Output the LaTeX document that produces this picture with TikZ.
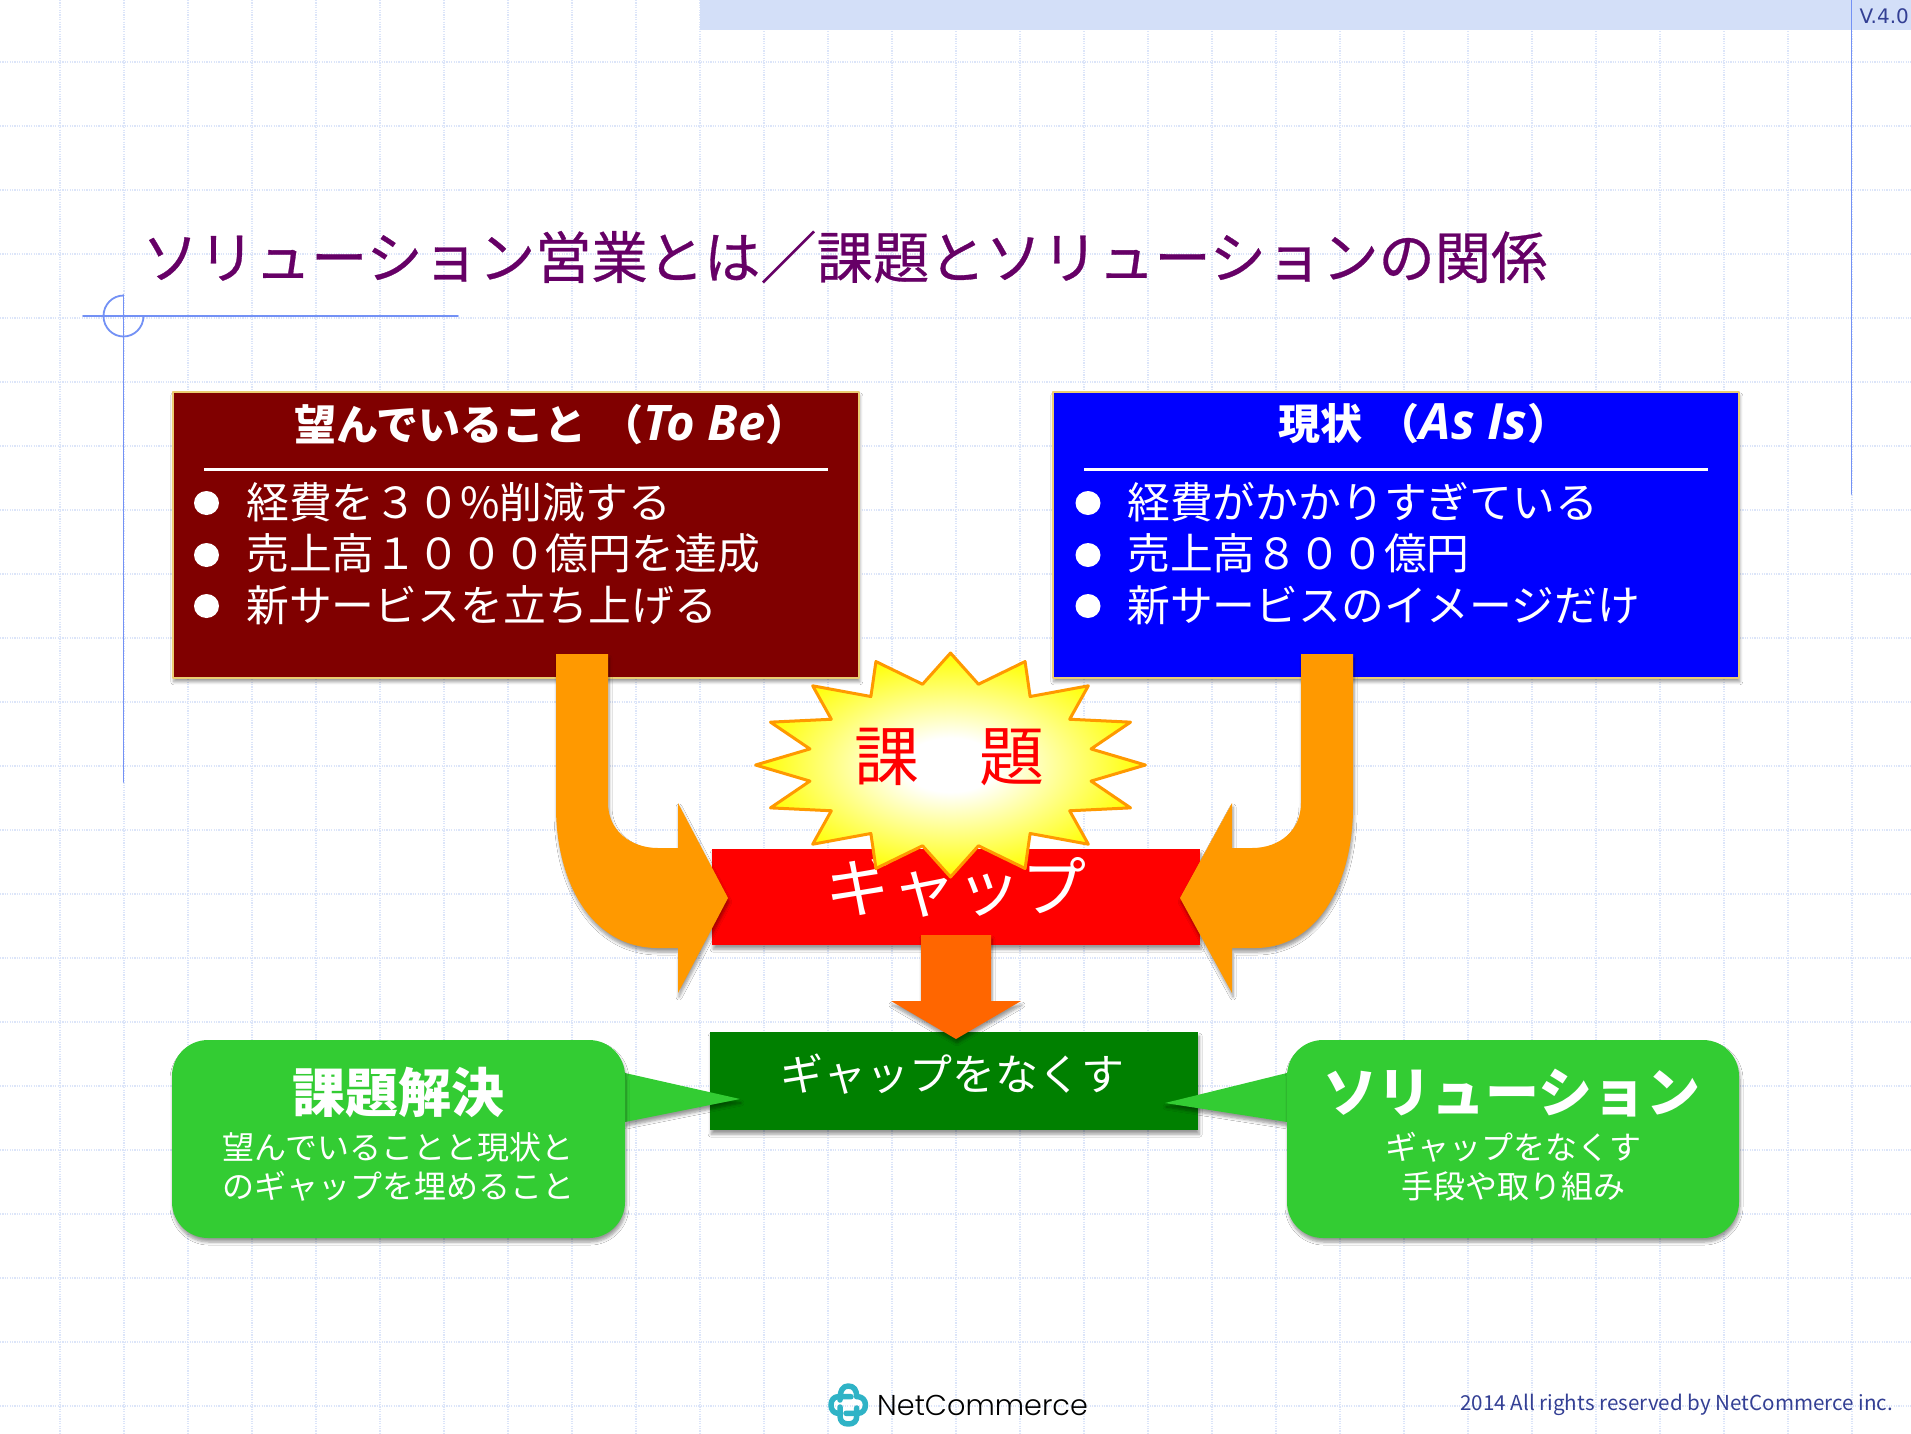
\documentclass[tikz,border=0pt]{standalone}
\usepackage{fontspec}
\setmainfont{Noto Sans CJK JP}
\newfontfamily\titlefont[FakeBold=0.5]{Noto Sans CJK JP}
\newfontfamily\latinfont{Open Sans}
\newfontfamily\versionfont{DejaVu Sans}
\newfontfamily\logofont{Poppins Light}
\usetikzlibrary{shapes.geometric, shadows.blur}

\definecolor{gridblue}{HTML}{DCE5F9}
\definecolor{bandblue}{HTML}{D3DFF8}
\definecolor{ruleblue}{HTML}{7391F5}
\definecolor{titlepurple}{HTML}{660066}
\definecolor{footblue}{HTML}{333F94}
\definecolor{tobered}{HTML}{800000}
\definecolor{goldline}{HTML}{EBCD72}
\definecolor{arroworange}{HTML}{FF9900}
\definecolor{downorange}{HTML}{FF6600}
\definecolor{darkgreen}{HTML}{008000}
\definecolor{lightgreen}{HTML}{33CC33}
\definecolor{logoteal}{HTML}{2FB3C6}

\pgfdeclareradialshading{burst}{\pgfpointorigin}{color(0bp)=(white); color(6bp)=(white); color(25bp)=(yellow); color(50bp)=(yellow)}

\tikzset{
  softshadow/.style={blur shadow={shadow xshift=1pt,shadow yshift=-4pt,shadow blur radius=3pt,shadow blur steps=6,shadow opacity=40}},
  gridline/.style={gridblue,line width=1.2pt,dash pattern=on 1.2pt off 1.2pt,line cap=butt},
  decoline/.style={ruleblue,line width=1.8pt},
  listbox/.style={draw=goldline,line width=2.5pt,minimum width=686pt,minimum height=286pt,inner sep=0pt,softshadow},
  headtext/.style={anchor=west,white,inner sep=0pt,font=\fontsize{42}{48}\selectfont\bfseries},
  listtext/.style={anchor=west,white,inner sep=0pt,font=\fontsize{42.8}{48}\selectfont},
  bigbar/.style={inner sep=0pt,minimum width=488pt,softshadow},
  callout/.style={fill=lightgreen,rounded corners=36pt,softshadow},
  wedge/.style={fill=lightgreen,softshadow},
  callhead/.style={white,inner sep=0pt,font=\fontsize{52}{60}\selectfont\bfseries},
  calltext/.style={white,inner sep=0pt,align=center,font=\fontsize{32}{39}\selectfont},
  footertext/.style={footblue,inner sep=0pt,font=\fontsize{20.6}{24}\selectfont},
  logoline/.style={logoteal,line width=5.5pt}
}

\begin{document}
\begin{tikzpicture}[line cap=round,line join=round,x=1pt,y=-1pt]
\useasboundingbox (0,0) rectangle (1911,1433);
\clip (0,0) rectangle (1911,1433);
\fill[white] (0,0) rectangle (1911,1433);

% slide background
\foreach \gx in {0,...,28} \draw[gridline] ({60+64*\gx},0) -- ({60+64*\gx},1433);
\foreach \gy in {0,...,21} \draw[gridline] (0,{62+64*\gy}) -- (1911,{62+64*\gy});
\fill[bandblue] (700,0) rectangle (1911,30);

\draw[decoline] (83,316) -- (458,316);
\draw[decoline] (123.5,295) -- (123.5,782);
\draw[decoline] (143.5,316) arc[start angle=0,end angle=270,x radius=20,y radius=20.5];
\draw[decoline] (1851.5,0) -- (1851.5,494);
\node[footertext,anchor=east,font=\fontsize{20}{24}\versionfont] (version) at (1909,16) {V.4.0};

\node[anchor=west,titlepurple,inner sep=0pt,font=\fontsize{56.3}{60}\titlefont] (title) at (142,257)
  {ソリューション営業とは／課題とソリューションの関係};

% the two upper boxes
\node[listbox,fill=tobered,anchor=north west] (tobe) at (171.5,390.5) {};
\node[listbox,fill=blue,anchor=north west] (asis) at (1051.5,390.5) {};

\draw[white,line width=3pt,line cap=butt] (204,469) -- (828,469);
\draw[white,line width=3pt,line cap=butt] (1084,469) -- (1708,469);

\node[headtext] (tobehead) at (294,425) {望んでいること \hspace{6pt}（{\fontsize{49}{48}\latinfont\itshape To Be}）};
\node[headtext] (asishead) at (1278,424) {現状 \hspace{6pt}（{\fontsize{50}{48}\latinfont\itshape As Is}）};

\foreach \by in {503,555,606} {
  \fill[white] (206.5,\by) circle[x radius=12.5,y radius=12];
  \fill[white] (1088,\by) circle[x radius=12.5,y radius=12];
}

\node[listtext] (tobeA) at (246,502) {経費を３０\%削減する};
\node[listtext] (tobeB) at (246,553) {売上高１０００億円を達成};
\node[listtext] (tobeC) at (246,605) {新サービスを立ち上げる};
\node[listtext] (asisA) at (1127,502) {経費がかかりすぎている};
\node[listtext] (asisB) at (1127,553) {売上高８００億円};
\node[listtext] (asisC) at (1127,605) {新サービスのイメージだけ};

% gap bar, arrows and burst
\node[bigbar,fill=red,anchor=north west,minimum height=96pt] (gapbar) at (712,849) {};
\node[white,inner sep=0pt,font=\fontsize{65}{70}\selectfont] (gaptext) at (956,887) {ギャップ};

\fill[arroworange,softshadow] (556,654) -- (608,654) -- (608,803)
  .. controls (608,830) and (630,848) .. (658,848) -- (678,848) -- (678,803)
  -- (728,898) -- (678,993) -- (678,948) -- (658,948)
  .. controls (590,948) and (556,880) .. (556,807) -- cycle;
\fill[arroworange,softshadow] (1353,654) -- (1301,654) -- (1301,803)
  .. controls (1301,830) and (1280,848) .. (1252,848) -- (1232,848) -- (1232,803)
  -- (1180,898) -- (1232,993) -- (1232,948) -- (1255,948)
  .. controls (1320,948) and (1353,880) .. (1353,807) -- cycle;

\node[bigbar,fill=darkgreen,anchor=north west,minimum height=98pt] (nogap) at (710,1032) {};
\node[white,inner sep=0pt,font=\fontsize{43}{48}\selectfont] (nogaptext) at (952,1074) {ギャップをなくす};

\fill[downorange,softshadow] (921,935) -- (991,935) -- (991,1001) -- (1021,1001)
  -- (956,1039) -- (891,1001) -- (921,1001) -- cycle;

\node[star,star points=16,star point ratio=1.36,minimum size=224pt,inner sep=0pt,
  xscale=1.74,draw=arroworange,line width=3pt,shading=burst] (burst) at (950.5,765) {};
\node[red,inner sep=0pt,font=\fontsize{65}{70}\selectfont] (burstkadai) at (949.5,757) {課\hspace{61pt}題};

% green callouts
\fill[wedge] (625,1073) -- (740,1099) -- (625,1122) -- cycle;
\fill[wedge] (1287,1073) -- (1165,1103) -- (1287,1122) -- cycle;
\path[callout] (172,1040) rectangle (625,1238);
\path[callout] (1287,1040) rectangle (1739,1238);

\node[callhead,font=\fontsize{53}{60}\selectfont\bfseries] (kaiketsu) at (398,1093) {課題解決};
\node[calltext] (kaiketsutext) at (398,1167) {望んでいることと現状と\\のギャップを埋めること};
\node[callhead,font=\fontsize{54}{60}\selectfont\bfseries] (solution) at (1512,1093) {ソリューション};
\node[calltext] (solutiontext) at (1513,1167) {ギャップをなくす\\手段や取り組み};

% footer
\draw[logoline] (840,1400) .. controls (840,1390) and (843,1386) .. (848.3,1386)
  .. controls (854,1386) and (856.7,1390) .. (856.7,1396.7) -- (858,1396.7)
  .. controls (862,1396.7) and (865.5,1400) .. (865.5,1405)
  .. controls (865.5,1410) and (862,1413.3) .. (858,1413.3) -- (846,1413.3);
\draw[logoline] (851,1396.7) -- (838,1396.7) .. controls (834,1396.7) and (831,1400) .. (831,1405)
  .. controls (831,1410) and (834,1413.3) .. (838,1413.3);
\draw[logoline] (840,1407) -- (840,1416) .. controls (840,1421) and (843,1424) .. (848.3,1424)
  .. controls (854,1424) and (856.7,1421) .. (856.7,1416) -- (856.7,1408);
\node[anchor=west,inner sep=0pt,font=\fontsize{28.7}{36}\logofont] (logotext) at (877,1405) {NetCommerce};
\node[footertext,anchor=east] (footer) at (1893,1405) {2014 All rights reserved by NetCommerce inc.};
\end{tikzpicture}
\end{document}
